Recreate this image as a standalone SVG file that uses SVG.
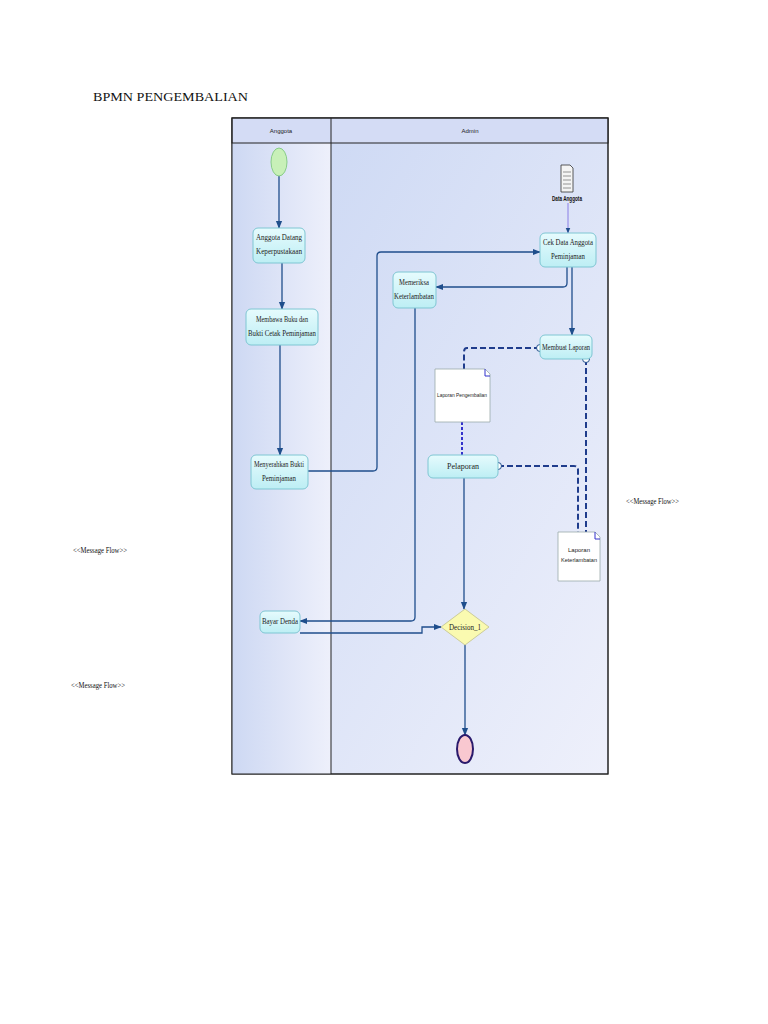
<svg xmlns="http://www.w3.org/2000/svg" width="768" height="1024" viewBox="0 0 768 1024">
<defs>
<linearGradient id="lane" x1="0" y1="0" x2="1" y2="1"><stop offset="0" stop-color="#c9d6f3"/><stop offset="1" stop-color="#eef0fb"/></linearGradient>
<linearGradient id="lane1" x1="0" y1="0" x2="1" y2="0"><stop offset="0" stop-color="#cdd8f3"/><stop offset="1" stop-color="#eef0fb"/></linearGradient>
<linearGradient id="task" x1="0" y1="0" x2="0" y2="1"><stop offset="0" stop-color="#e6fbfd"/><stop offset="1" stop-color="#bdeef4"/></linearGradient>
<marker id="ar" viewBox="0 0 10 10" refX="9" refY="5" markerWidth="6" markerHeight="6" orient="auto"><path d="M0,1 L10,5 L0,9 z" fill="#1f4e8c"/></marker>
<marker id="oc" viewBox="0 0 10 10" refX="5" refY="5" markerWidth="5" markerHeight="5"><circle cx="5" cy="5" r="3.5" fill="#fff" stroke="#1f4e8c"/></marker>
</defs>
<style>
.t{fill:url(#task);stroke:#7fc6d3;stroke-width:1}
.lb{font-family:"Liberation Serif",serif;font-size:8px;fill:#222;text-anchor:middle}
.sm{font-family:"Liberation Sans",sans-serif;font-size:6px;fill:#222;text-anchor:middle}
.c{fill:none;stroke:#1f4e8c;stroke-width:1.3}
.d{fill:none;stroke:#1f3c8c;stroke-width:2;stroke-dasharray:6,3}
.doc{fill:#fff;stroke:#9aa;stroke-width:0.8}
</style>
<rect width="768" height="1024" fill="#fff"/>
<text x="93" y="101" font-family="Liberation Serif,serif" font-size="13" fill="#111" textLength="155" lengthAdjust="spacingAndGlyphs">BPMN PENGEMBALIAN</text>
<g id="pool">
<rect x="232" y="118" width="376" height="656" fill="url(#lane)" stroke="#222"/>
<rect x="232" y="143" width="99" height="631" fill="url(#lane1)"/>
<rect x="232" y="118" width="376" height="25" fill="#d4dcf5" stroke="#222"/>
<line x1="331" y1="118" x2="331" y2="774" stroke="#222"/>
<rect x="232" y="118" width="376" height="656" fill="none" stroke="#222"/>
<text x="281" y="133" class="sm">Anggota</text>
<text x="470" y="133" class="sm">Admin</text>
</g>
<g id="connectors">
<path class="c" d="M279,176 V228" marker-end="url(#ar)"/>
<path class="c" d="M282,263 V309" marker-end="url(#ar)"/>
<path class="c" d="M280,345 V455" marker-end="url(#ar)"/>
<path class="c" d="M308,471 H373 Q377,471 377,467 V256 Q377,252 381,252 H540" marker-end="url(#ar)"/>
<path class="c" d="M567,267 V283 Q567,287 563,287 H436" marker-end="url(#ar)"/>
<path class="c" d="M572,267 V335" marker-end="url(#ar)"/>
<path class="c" d="M415,308 V617 Q415,621 411,621 H300" marker-end="url(#ar)"/>
<path class="c" d="M300,633 H422 V627 H441" marker-end="url(#ar)"/>
<path class="c" d="M464,478 V609" marker-end="url(#ar)"/>
<path class="c" d="M465,645 V735" marker-end="url(#ar)"/>
<path d="M568,203 V233" stroke="#8a7ee6" stroke-width="1" fill="none" marker-end="url(#ar)"/>
<path class="d" d="M540,348 H467 Q464,348 464,352 V369" marker-start="url(#oc)"/>
<path d="M462,422 V455" stroke="#3333cc" stroke-width="2" stroke-dasharray="3,2" fill="none"/>
<path class="d" d="M586,359 V532" marker-start="url(#oc)"/>
<path class="d" d="M498,466 H574 Q578,466 578,470 V532" marker-start="url(#oc)"/>
</g>
<g id="start"><ellipse cx="279" cy="162" rx="8" ry="14" fill="#c8f0b8" stroke="#8c8"/></g>
<g id="anggota-datang"><rect class="t" x="253" y="228" width="52" height="35" rx="5"/><text class="lb" x="279" y="240" textLength="46" lengthAdjust="spacingAndGlyphs">Anggota Datang</text><text class="lb" x="279" y="254" textLength="46" lengthAdjust="spacingAndGlyphs">Keperpustakaan</text></g>
<g id="membawa"><rect class="t" x="246" y="309" width="72" height="36" rx="5"/><text class="lb" x="282" y="322" textLength="52" lengthAdjust="spacingAndGlyphs">Membawa Buku dan</text><text class="lb" x="282" y="336" textLength="68" lengthAdjust="spacingAndGlyphs">Bukti Cetak Peminjaman</text></g>
<g id="menyerahkan"><rect class="t" x="251" y="455" width="57" height="34" rx="5"/><text class="lb" x="279" y="467" textLength="50" lengthAdjust="spacingAndGlyphs">Menyerahkan Bukti</text><text class="lb" x="279" y="481" textLength="34" lengthAdjust="spacingAndGlyphs">Peminjaman</text></g>
<g id="bayar"><rect class="t" x="260" y="611" width="40" height="22" rx="5"/><text class="lb" x="280" y="624" textLength="36" lengthAdjust="spacingAndGlyphs">Bayar Denda</text></g>
<g id="cek"><rect class="t" x="540" y="233" width="56" height="34" rx="5"/><text class="lb" x="568" y="245" textLength="50" lengthAdjust="spacingAndGlyphs">Cek Data Anggota</text><text class="lb" x="568" y="259" textLength="34" lengthAdjust="spacingAndGlyphs">Peminjaman</text></g>
<g id="memeriksa"><rect class="t" x="393" y="272" width="43" height="36" rx="5"/><text class="lb" x="414" y="285" textLength="30" lengthAdjust="spacingAndGlyphs">Memeriksa</text><text class="lb" x="414" y="299" textLength="40" lengthAdjust="spacingAndGlyphs">Keterlambatan</text></g>
<g id="membuat"><rect class="t" x="540" y="335" width="52" height="24" rx="5"/><text class="lb" x="566" y="350" textLength="48" lengthAdjust="spacingAndGlyphs">Membuat Laporan</text></g>
<g id="pelaporan"><rect class="t" x="428" y="455" width="70" height="23" rx="5"/><text class="lb" x="463" y="469">Pelaporan</text></g>
<g id="laporan-pengembalian"><path class="doc" d="M435,369 H485 L490,374 V422 H435 Z"/><path d="M485,369 V376 H490" fill="none" stroke="#33c"/><text class="sm" x="462" y="397" textLength="50" lengthAdjust="spacingAndGlyphs">Laporan Pengembalian</text></g>
<g id="laporan-keterlambatan"><path class="doc" d="M558,532 H595 L600,537 V581 H558 Z"/><path d="M595,532 V539 H600" fill="none" stroke="#33c"/><text class="sm" x="579" y="552">Laporan</text><text class="sm" x="579" y="562" textLength="36" lengthAdjust="spacingAndGlyphs">Keterlambatan</text></g>
<g id="data-anggota"><path d="M561,165 H570 L573,168 V192 H561 Z" fill="#f4f4f4" stroke="#333" stroke-width="0.8"/><path d="M563,172 H571 M563,176 H571 M563,180 H571 M563,184 H571 M563,188 H571" stroke="#555" stroke-width="0.6"/><text x="567" y="201" font-family="Liberation Sans,sans-serif" font-size="6.5" font-weight="bold" text-anchor="middle" fill="#111" textLength="30" lengthAdjust="spacingAndGlyphs">Data Anggota</text></g>
<g id="decision"><path d="M465,609 L489,627 L465,645 L441,627 Z" fill="#fafab0" stroke="#cc9"/><text class="lb" x="465" y="630" textLength="32" lengthAdjust="spacingAndGlyphs">Decision_1</text></g>
<g id="end"><ellipse cx="465" cy="749" rx="8" ry="14" fill="#f9c8d0" stroke="#2a1a6c" stroke-width="2"/></g>
<g id="labels" font-family="Liberation Serif,serif" font-size="8" fill="#111">
<text x="626" y="504" textLength="53" lengthAdjust="spacingAndGlyphs">&lt;&lt;Message Flow&gt;&gt;</text>
<text x="73" y="553" textLength="54" lengthAdjust="spacingAndGlyphs">&lt;&lt;Message Flow&gt;&gt;</text>
<text x="71" y="688" textLength="54" lengthAdjust="spacingAndGlyphs">&lt;&lt;Message Flow&gt;&gt;</text>
</g>
</svg>
